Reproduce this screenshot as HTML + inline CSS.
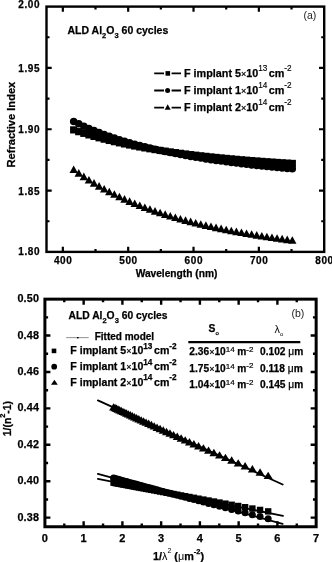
<!DOCTYPE html>
<html><head><meta charset="utf-8"><title>Figure</title>
<style>html,body{margin:0;padding:0;background:#fff;width:332px;height:562px;overflow:hidden}svg{display:block}</style>
</head><body>
<svg width="332" height="562" viewBox="0 0 332 562">
<rect width="332" height="562" fill="#fff"/>
<g fill="#000">
<rect x="70.08" y="126.29" width="7.2" height="7.2"/>
<rect x="75.17" y="128.05" width="7.2" height="7.2"/>
<rect x="80.25" y="129.72" width="7.2" height="7.2"/>
<rect x="85.34" y="131.3" width="7.2" height="7.2"/>
<rect x="90.42" y="132.79" width="7.2" height="7.2"/>
<rect x="95.5" y="134.21" width="7.2" height="7.2"/>
<rect x="100.59" y="135.56" width="7.2" height="7.2"/>
<rect x="105.67" y="136.84" width="7.2" height="7.2"/>
<rect x="110.76" y="138.06" width="7.2" height="7.2"/>
<rect x="115.84" y="139.23" width="7.2" height="7.2"/>
<rect x="120.93" y="140.34" width="7.2" height="7.2"/>
<rect x="126.01" y="141.39" width="7.2" height="7.2"/>
<rect x="131.1" y="142.4" width="7.2" height="7.2"/>
<rect x="136.18" y="143.37" width="7.2" height="7.2"/>
<rect x="141.26" y="144.29" width="7.2" height="7.2"/>
<rect x="146.35" y="145.17" width="7.2" height="7.2"/>
<rect x="151.43" y="146.01" width="7.2" height="7.2"/>
<rect x="156.52" y="146.82" width="7.2" height="7.2"/>
<rect x="161.6" y="147.59" width="7.2" height="7.2"/>
<rect x="166.69" y="148.34" width="7.2" height="7.2"/>
<rect x="171.77" y="149.05" width="7.2" height="7.2"/>
<rect x="176.86" y="149.73" width="7.2" height="7.2"/>
<rect x="181.94" y="150.39" width="7.2" height="7.2"/>
<rect x="187.02" y="151.02" width="7.2" height="7.2"/>
<rect x="192.11" y="151.63" width="7.2" height="7.2"/>
<rect x="197.19" y="152.21" width="7.2" height="7.2"/>
<rect x="202.28" y="152.77" width="7.2" height="7.2"/>
<rect x="207.36" y="153.32" width="7.2" height="7.2"/>
<rect x="212.45" y="153.84" width="7.2" height="7.2"/>
<rect x="217.53" y="154.34" width="7.2" height="7.2"/>
<rect x="222.62" y="154.82" width="7.2" height="7.2"/>
<rect x="227.7" y="155.29" width="7.2" height="7.2"/>
<rect x="232.78" y="155.74" width="7.2" height="7.2"/>
<rect x="237.87" y="156.18" width="7.2" height="7.2"/>
<rect x="242.95" y="156.6" width="7.2" height="7.2"/>
<rect x="248.04" y="157.01" width="7.2" height="7.2"/>
<rect x="253.12" y="157.4" width="7.2" height="7.2"/>
<rect x="258.21" y="157.78" width="7.2" height="7.2"/>
<rect x="263.29" y="158.15" width="7.2" height="7.2"/>
<rect x="268.38" y="158.5" width="7.2" height="7.2"/>
<rect x="273.46" y="158.85" width="7.2" height="7.2"/>
<rect x="278.54" y="159.18" width="7.2" height="7.2"/>
<rect x="283.63" y="159.51" width="7.2" height="7.2"/>
<rect x="288.71" y="159.82" width="7.2" height="7.2"/>
<circle cx="73.68" cy="121.38" r="3.75"/>
<circle cx="78.77" cy="123.87" r="3.75"/>
<circle cx="83.85" cy="126.23" r="3.75"/>
<circle cx="88.94" cy="128.46" r="3.75"/>
<circle cx="94.02" cy="130.58" r="3.75"/>
<circle cx="99.1" cy="132.59" r="3.75"/>
<circle cx="104.19" cy="134.5" r="3.75"/>
<circle cx="109.27" cy="136.32" r="3.75"/>
<circle cx="114.36" cy="138.05" r="3.75"/>
<circle cx="119.44" cy="139.7" r="3.75"/>
<circle cx="124.53" cy="141.27" r="3.75"/>
<circle cx="129.61" cy="142.77" r="3.75"/>
<circle cx="134.7" cy="144.19" r="3.75"/>
<circle cx="139.78" cy="145.56" r="3.75"/>
<circle cx="144.86" cy="146.87" r="3.75"/>
<circle cx="149.95" cy="148.11" r="3.75"/>
<circle cx="155.03" cy="149.31" r="3.75"/>
<circle cx="160.12" cy="150.45" r="3.75"/>
<circle cx="165.2" cy="151.55" r="3.75"/>
<circle cx="170.29" cy="152.6" r="3.75"/>
<circle cx="175.37" cy="153.61" r="3.75"/>
<circle cx="180.46" cy="154.58" r="3.75"/>
<circle cx="185.54" cy="155.51" r="3.75"/>
<circle cx="190.62" cy="156.41" r="3.75"/>
<circle cx="195.71" cy="157.27" r="3.75"/>
<circle cx="200.79" cy="158.09" r="3.75"/>
<circle cx="205.88" cy="158.89" r="3.75"/>
<circle cx="210.96" cy="159.66" r="3.75"/>
<circle cx="216.05" cy="160.4" r="3.75"/>
<circle cx="221.13" cy="161.11" r="3.75"/>
<circle cx="226.22" cy="161.79" r="3.75"/>
<circle cx="231.3" cy="162.46" r="3.75"/>
<circle cx="236.38" cy="163.1" r="3.75"/>
<circle cx="241.47" cy="163.71" r="3.75"/>
<circle cx="246.55" cy="164.31" r="3.75"/>
<circle cx="251.64" cy="164.89" r="3.75"/>
<circle cx="256.72" cy="165.44" r="3.75"/>
<circle cx="261.81" cy="165.98" r="3.75"/>
<circle cx="266.89" cy="166.5" r="3.75"/>
<circle cx="271.98" cy="167.01" r="3.75"/>
<circle cx="277.06" cy="167.5" r="3.75"/>
<circle cx="282.14" cy="167.97" r="3.75"/>
<circle cx="287.23" cy="168.43" r="3.75"/>
<circle cx="292.31" cy="168.87" r="3.75"/>
<path d="M73.68 165.39L77.88 172.99L69.48 172.99Z"/>
<path d="M78.77 169.11L82.97 176.71L74.57 176.71Z"/>
<path d="M83.85 172.62L88.05 180.22L79.65 180.22Z"/>
<path d="M88.94 175.95L93.14 183.55L84.74 183.55Z"/>
<path d="M94.02 179.11L98.22 186.71L89.82 186.71Z"/>
<path d="M99.1 182.11L103.3 189.71L94.9 189.71Z"/>
<path d="M104.19 184.96L108.39 192.56L99.99 192.56Z"/>
<path d="M109.27 187.67L113.47 195.27L105.07 195.27Z"/>
<path d="M114.36 190.25L118.56 197.85L110.16 197.85Z"/>
<path d="M119.44 192.7L123.64 200.3L115.24 200.3Z"/>
<path d="M124.53 195.04L128.73 202.64L120.33 202.64Z"/>
<path d="M129.61 197.28L133.81 204.88L125.41 204.88Z"/>
<path d="M134.7 199.41L138.9 207.01L130.5 207.01Z"/>
<path d="M139.78 201.44L143.98 209.04L135.58 209.04Z"/>
<path d="M144.86 203.39L149.06 210.99L140.66 210.99Z"/>
<path d="M149.95 205.25L154.15 212.85L145.75 212.85Z"/>
<path d="M155.03 207.03L159.23 214.63L150.83 214.63Z"/>
<path d="M160.12 208.74L164.32 216.34L155.92 216.34Z"/>
<path d="M165.2 210.37L169.4 217.97L161 217.97Z"/>
<path d="M170.29 211.94L174.49 219.54L166.09 219.54Z"/>
<path d="M175.37 213.45L179.57 221.05L171.17 221.05Z"/>
<path d="M180.46 214.89L184.66 222.49L176.26 222.49Z"/>
<path d="M185.54 216.28L189.74 223.88L181.34 223.88Z"/>
<path d="M190.62 217.61L194.82 225.21L186.42 225.21Z"/>
<path d="M195.71 218.89L199.91 226.49L191.51 226.49Z"/>
<path d="M200.79 220.13L204.99 227.73L196.59 227.73Z"/>
<path d="M205.88 221.31L210.08 228.91L201.68 228.91Z"/>
<path d="M210.96 222.46L215.16 230.06L206.76 230.06Z"/>
<path d="M216.05 223.56L220.25 231.16L211.85 231.16Z"/>
<path d="M221.13 224.62L225.33 232.22L216.93 232.22Z"/>
<path d="M226.22 225.64L230.42 233.24L222.02 233.24Z"/>
<path d="M231.3 226.63L235.5 234.23L227.1 234.23Z"/>
<path d="M236.38 227.59L240.58 235.19L232.18 235.19Z"/>
<path d="M241.47 228.51L245.67 236.11L237.27 236.11Z"/>
<path d="M246.55 229.39L250.75 236.99L242.35 236.99Z"/>
<path d="M251.64 230.25L255.84 237.85L247.44 237.85Z"/>
<path d="M256.72 231.08L260.92 238.68L252.52 238.68Z"/>
<path d="M261.81 231.89L266.01 239.49L257.61 239.49Z"/>
<path d="M266.89 232.66L271.09 240.26L262.69 240.26Z"/>
<path d="M271.98 233.42L276.18 241.02L267.78 241.02Z"/>
<path d="M277.06 234.14L281.26 241.74L272.86 241.74Z"/>
<path d="M282.14 234.85L286.34 242.45L277.94 242.45Z"/>
<path d="M287.23 235.53L291.43 243.13L283.03 243.13Z"/>
<path d="M292.31 236.19L296.51 243.79L288.11 243.79Z"/>
</g>
<rect x="46.5" y="6.6" width="277.7" height="245.3" fill="none" stroke="#000" stroke-width="2.4"/>
<path d="M62.84 251.9v-5.2M62.84 6.6v5.2M95.51 251.9v-3.0M95.51 6.6v3.0M128.18 251.9v-5.2M128.18 6.6v5.2M160.85 251.9v-3.0M160.85 6.6v3.0M193.52 251.9v-5.2M193.52 6.6v5.2M226.19 251.9v-3.0M226.19 6.6v3.0M258.86 251.9v-5.2M258.86 6.6v5.2M291.53 251.9v-3.0M291.53 6.6v3.0M46.5 37.26h3.0M324.2 37.26h-3.0M46.5 67.93h5.2M324.2 67.93h-5.2M46.5 98.59h3.0M324.2 98.59h-3.0M46.5 129.25h5.2M324.2 129.25h-5.2M46.5 159.91h3.0M324.2 159.91h-3.0M46.5 190.57h5.2M324.2 190.57h-5.2M46.5 221.24h3.0M324.2 221.24h-3.0" stroke="#000" stroke-width="2.2" fill="none"/>
<text x="40.2" y="7.5" text-anchor="end" font-size="10" letter-spacing="0.6" font-family="Liberation Sans, Arial, sans-serif" font-weight="bold" stroke="#000" stroke-width="0.25">2.00</text>
<text x="40.2" y="71.7" text-anchor="end" font-size="10" letter-spacing="0.6" font-family="Liberation Sans, Arial, sans-serif" font-weight="bold" stroke="#000" stroke-width="0.25">1.95</text>
<text x="40.2" y="132.95" text-anchor="end" font-size="10" letter-spacing="0.6" font-family="Liberation Sans, Arial, sans-serif" font-weight="bold" stroke="#000" stroke-width="0.25">1.90</text>
<text x="40.2" y="194.6" text-anchor="end" font-size="10" letter-spacing="0.6" font-family="Liberation Sans, Arial, sans-serif" font-weight="bold" stroke="#000" stroke-width="0.25">1.85</text>
<text x="40.2" y="255.2" text-anchor="end" font-size="10" letter-spacing="0.6" font-family="Liberation Sans, Arial, sans-serif" font-weight="bold" stroke="#000" stroke-width="0.25">1.80</text>
<text x="63.14" y="264.4" text-anchor="middle" font-size="10" letter-spacing="0.6" font-family="Liberation Sans, Arial, sans-serif" font-weight="bold" stroke="#000" stroke-width="0.25">400</text>
<text x="128.48" y="264.4" text-anchor="middle" font-size="10" letter-spacing="0.6" font-family="Liberation Sans, Arial, sans-serif" font-weight="bold" stroke="#000" stroke-width="0.25">500</text>
<text x="193.82" y="264.4" text-anchor="middle" font-size="10" letter-spacing="0.6" font-family="Liberation Sans, Arial, sans-serif" font-weight="bold" stroke="#000" stroke-width="0.25">600</text>
<text x="259.16" y="264.4" text-anchor="middle" font-size="10" letter-spacing="0.6" font-family="Liberation Sans, Arial, sans-serif" font-weight="bold" stroke="#000" stroke-width="0.25">700</text>
<text x="324.5" y="264.4" text-anchor="middle" font-size="10" letter-spacing="0.6" font-family="Liberation Sans, Arial, sans-serif" font-weight="bold" stroke="#000" stroke-width="0.25">800</text>
<text x="176.5" y="276.5" text-anchor="middle" font-size="10.2" font-family="Liberation Sans, Arial, sans-serif" font-weight="bold" stroke="#000" stroke-width="0.25">Wavelength (nm)</text>
<text transform="translate(15.2 124.6) rotate(-90)" text-anchor="middle" font-size="11.1" font-family="Liberation Sans, Arial, sans-serif" font-weight="bold" stroke="#000" stroke-width="0.25">Refractive Index</text>
<text x="67.5" y="33.8" font-size="10.5" font-family="Liberation Sans, Arial, sans-serif" font-weight="bold" stroke="#000" stroke-width="0.25">ALD Al<tspan font-size="7.5" dy="4.5">2</tspan><tspan dy="-4.5">O</tspan><tspan font-size="7.5" dy="4.5">3</tspan><tspan dy="-4.5"> 60 cycles</tspan></text>
<text x="303.5" y="18.6" font-size="10.5" font-family="Liberation Sans, Arial, sans-serif" fill="#222">(a)</text>
<path d="M154.2 73.4H164M171.6 73.4H181" stroke="#000" stroke-width="1.9"/>
<rect x="165.5" y="71.1" width="4.6" height="4.6"/>
<text x="184" y="77" font-size="10.8" font-family="Liberation Sans, Arial, sans-serif" font-weight="bold" stroke="#000" stroke-width="0.25">F implant 5<tspan font-weight="normal" font-size="9">×</tspan>10<tspan font-size="8.2" dy="-6" font-weight="normal" stroke="#000" stroke-width="0.15">13</tspan><tspan dy="6" dx="1.3">cm</tspan><tspan font-size="8.2" dy="-6" font-weight="normal" stroke="#000" stroke-width="0.15">-2</tspan></text>
<path d="M154.2 90.5H164M171.6 90.5H181" stroke="#000" stroke-width="1.9"/>
<circle cx="167.6" cy="90.5" r="2.5"/>
<text x="184" y="94.1" font-size="10.8" font-family="Liberation Sans, Arial, sans-serif" font-weight="bold" stroke="#000" stroke-width="0.25">F implant 1<tspan font-weight="normal" font-size="9">×</tspan>10<tspan font-size="8.2" dy="-6" font-weight="normal" stroke="#000" stroke-width="0.15">14</tspan><tspan dy="6" dx="1.3">cm</tspan><tspan font-size="8.2" dy="-6" font-weight="normal" stroke="#000" stroke-width="0.15">-2</tspan></text>
<path d="M154.2 107.6H164M171.6 107.6H181" stroke="#000" stroke-width="1.9"/>
<path d="M167.7 104.13L170.7 109.73L164.7 109.73Z"/>
<text x="184" y="111.2" font-size="10.8" font-family="Liberation Sans, Arial, sans-serif" font-weight="bold" stroke="#000" stroke-width="0.25">F implant 2<tspan font-weight="normal" font-size="9">×</tspan>10<tspan font-size="8.2" dy="-6" font-weight="normal" stroke="#000" stroke-width="0.15">14</tspan><tspan dy="6" dx="1.3">cm</tspan><tspan font-size="8.2" dy="-6" font-weight="normal" stroke="#000" stroke-width="0.15">-2</tspan></text>
<g fill="#000">
<rect x="264.97" y="508.19" width="6.4" height="6.4"/>
<rect x="256.86" y="506.73" width="6.4" height="6.4"/>
<rect x="249.18" y="505.34" width="6.4" height="6.4"/>
<rect x="241.91" y="504.02" width="6.4" height="6.4"/>
<rect x="235.01" y="502.77" width="6.4" height="6.4"/>
<rect x="228.46" y="501.58" width="6.4" height="6.4"/>
<rect x="222.24" y="500.44" width="6.4" height="6.4"/>
<rect x="216.32" y="499.35" width="6.4" height="6.4"/>
<rect x="210.69" y="498.32" width="6.4" height="6.4"/>
<rect x="205.33" y="497.33" width="6.4" height="6.4"/>
<rect x="200.22" y="496.39" width="6.4" height="6.4"/>
<rect x="195.35" y="495.49" width="6.4" height="6.4"/>
<rect x="190.69" y="494.62" width="6.4" height="6.4"/>
<rect x="186.25" y="493.8" width="6.4" height="6.4"/>
<rect x="182" y="493.01" width="6.4" height="6.4"/>
<rect x="177.94" y="492.25" width="6.4" height="6.4"/>
<rect x="174.05" y="491.52" width="6.4" height="6.4"/>
<rect x="170.32" y="490.83" width="6.4" height="6.4"/>
<rect x="166.75" y="490.16" width="6.4" height="6.4"/>
<rect x="163.33" y="489.52" width="6.4" height="6.4"/>
<rect x="160.04" y="488.9" width="6.4" height="6.4"/>
<rect x="156.89" y="488.3" width="6.4" height="6.4"/>
<rect x="153.86" y="487.73" width="6.4" height="6.4"/>
<rect x="150.95" y="487.18" width="6.4" height="6.4"/>
<rect x="148.15" y="486.66" width="6.4" height="6.4"/>
<rect x="145.45" y="486.15" width="6.4" height="6.4"/>
<rect x="142.86" y="485.66" width="6.4" height="6.4"/>
<rect x="140.36" y="485.18" width="6.4" height="6.4"/>
<rect x="137.96" y="484.73" width="6.4" height="6.4"/>
<rect x="135.64" y="484.29" width="6.4" height="6.4"/>
<rect x="133.4" y="483.86" width="6.4" height="6.4"/>
<rect x="131.25" y="483.45" width="6.4" height="6.4"/>
<rect x="129.17" y="483.05" width="6.4" height="6.4"/>
<rect x="127.16" y="482.67" width="6.4" height="6.4"/>
<rect x="125.21" y="482.3" width="6.4" height="6.4"/>
<rect x="123.34" y="481.94" width="6.4" height="6.4"/>
<rect x="121.53" y="481.6" width="6.4" height="6.4"/>
<rect x="119.77" y="481.26" width="6.4" height="6.4"/>
<rect x="118.08" y="480.94" width="6.4" height="6.4"/>
<rect x="116.43" y="480.62" width="6.4" height="6.4"/>
<rect x="114.84" y="480.32" width="6.4" height="6.4"/>
<rect x="113.31" y="480.02" width="6.4" height="6.4"/>
<rect x="111.81" y="479.74" width="6.4" height="6.4"/>
<rect x="110.37" y="479.46" width="6.4" height="6.4"/>
<circle cx="268.17" cy="518.64" r="3.5"/>
<circle cx="260.06" cy="516.6" r="3.5"/>
<circle cx="252.38" cy="514.67" r="3.5"/>
<circle cx="245.11" cy="512.83" r="3.5"/>
<circle cx="238.21" cy="511.07" r="3.5"/>
<circle cx="231.66" cy="509.4" r="3.5"/>
<circle cx="225.44" cy="507.8" r="3.5"/>
<circle cx="219.52" cy="506.28" r="3.5"/>
<circle cx="213.89" cy="504.83" r="3.5"/>
<circle cx="208.53" cy="503.44" r="3.5"/>
<circle cx="203.42" cy="502.11" r="3.5"/>
<circle cx="198.55" cy="500.84" r="3.5"/>
<circle cx="193.89" cy="499.62" r="3.5"/>
<circle cx="189.45" cy="498.46" r="3.5"/>
<circle cx="185.2" cy="497.34" r="3.5"/>
<circle cx="181.14" cy="496.27" r="3.5"/>
<circle cx="177.25" cy="495.24" r="3.5"/>
<circle cx="173.52" cy="494.26" r="3.5"/>
<circle cx="169.95" cy="493.31" r="3.5"/>
<circle cx="166.53" cy="492.4" r="3.5"/>
<circle cx="163.24" cy="491.52" r="3.5"/>
<circle cx="160.09" cy="490.68" r="3.5"/>
<circle cx="157.06" cy="489.87" r="3.5"/>
<circle cx="154.15" cy="489.09" r="3.5"/>
<circle cx="151.35" cy="488.34" r="3.5"/>
<circle cx="148.65" cy="487.61" r="3.5"/>
<circle cx="146.06" cy="486.92" r="3.5"/>
<circle cx="143.56" cy="486.24" r="3.5"/>
<circle cx="141.16" cy="485.59" r="3.5"/>
<circle cx="138.84" cy="484.97" r="3.5"/>
<circle cx="136.6" cy="484.36" r="3.5"/>
<circle cx="134.45" cy="483.77" r="3.5"/>
<circle cx="132.37" cy="483.21" r="3.5"/>
<circle cx="130.36" cy="482.66" r="3.5"/>
<circle cx="128.41" cy="482.13" r="3.5"/>
<circle cx="126.54" cy="481.62" r="3.5"/>
<circle cx="124.73" cy="481.13" r="3.5"/>
<circle cx="122.97" cy="480.65" r="3.5"/>
<circle cx="121.28" cy="480.18" r="3.5"/>
<circle cx="119.63" cy="479.73" r="3.5"/>
<circle cx="118.04" cy="479.3" r="3.5"/>
<circle cx="116.51" cy="478.88" r="3.5"/>
<circle cx="115.01" cy="478.47" r="3.5"/>
<circle cx="113.57" cy="478.07" r="3.5"/>
<path d="M268.17 471.64L272.67 479.04L263.67 479.04Z"/>
<path d="M260.06 468.29L264.56 475.69L255.56 475.69Z"/>
<path d="M252.38 465.1L256.88 472.5L247.88 472.5Z"/>
<path d="M245.11 462.05L249.61 469.45L240.61 469.45Z"/>
<path d="M238.21 459.15L242.71 466.55L233.71 466.55Z"/>
<path d="M231.66 456.37L236.16 463.77L227.16 463.77Z"/>
<path d="M225.44 453.71L229.94 461.11L220.94 461.11Z"/>
<path d="M219.52 451.17L224.02 458.57L215.02 458.57Z"/>
<path d="M213.89 448.74L218.39 456.14L209.39 456.14Z"/>
<path d="M208.53 446.42L213.03 453.82L204.03 453.82Z"/>
<path d="M203.42 444.19L207.92 451.59L198.92 451.59Z"/>
<path d="M198.55 442.06L203.05 449.46L194.05 449.46Z"/>
<path d="M193.89 440.01L198.39 447.41L189.39 447.41Z"/>
<path d="M189.45 438.05L193.95 445.45L184.95 445.45Z"/>
<path d="M185.2 436.16L189.7 443.56L180.7 443.56Z"/>
<path d="M181.14 434.35L185.64 441.75L176.64 441.75Z"/>
<path d="M177.25 432.61L181.75 440.01L172.75 440.01Z"/>
<path d="M173.52 430.94L178.02 438.34L169.02 438.34Z"/>
<path d="M169.95 429.33L174.45 436.73L165.45 436.73Z"/>
<path d="M166.53 427.78L171.03 435.18L162.03 435.18Z"/>
<path d="M163.24 426.29L167.74 433.69L158.74 433.69Z"/>
<path d="M160.09 424.86L164.59 432.26L155.59 432.26Z"/>
<path d="M157.06 423.48L161.56 430.88L152.56 430.88Z"/>
<path d="M154.15 422.14L158.65 429.54L149.65 429.54Z"/>
<path d="M151.35 420.86L155.85 428.26L146.85 428.26Z"/>
<path d="M148.65 419.62L153.15 427.02L144.15 427.02Z"/>
<path d="M146.06 418.43L150.56 425.83L141.56 425.83Z"/>
<path d="M143.56 417.27L148.06 424.67L139.06 424.67Z"/>
<path d="M141.16 416.16L145.66 423.56L136.66 423.56Z"/>
<path d="M138.84 415.08L143.34 422.48L134.34 422.48Z"/>
<path d="M136.6 414.04L141.1 421.44L132.1 421.44Z"/>
<path d="M134.45 413.03L138.95 420.43L129.95 420.43Z"/>
<path d="M132.37 412.06L136.87 419.46L127.87 419.46Z"/>
<path d="M130.36 411.12L134.86 418.52L125.86 418.52Z"/>
<path d="M128.41 410.21L132.91 417.61L123.91 417.61Z"/>
<path d="M126.54 409.33L131.04 416.73L122.04 416.73Z"/>
<path d="M124.73 408.47L129.23 415.87L120.23 415.87Z"/>
<path d="M122.97 407.65L127.47 415.05L118.47 415.05Z"/>
<path d="M121.28 406.84L125.78 414.24L116.78 414.24Z"/>
<path d="M119.63 406.07L124.13 413.47L115.13 413.47Z"/>
<path d="M118.04 405.31L122.54 412.71L113.54 412.71Z"/>
<path d="M116.51 404.58L121.01 411.98L112.01 411.98Z"/>
<path d="M115.01 403.87L119.51 411.27L110.51 411.27Z"/>
<path d="M113.57 403.19L118.07 410.59L109.07 410.59Z"/>
</g>
<path d="M97.9 400.4L282.7 484.5M97.9 473.8L282.6 523.9M97.9 478.8L283 515.8" stroke="#000" stroke-width="1.8" stroke-linecap="round" fill="none"/>
<rect x="44.9" y="299.15" width="271.25" height="227.6" fill="none" stroke="#000" stroke-width="3.0"/>
<path d="M64.28 526.75v-3.2M64.28 299.15v3.2M83.65 526.75v-5.5M83.65 299.15v5.5M103.03 526.75v-3.2M103.03 299.15v3.2M122.4 526.75v-5.5M122.4 299.15v5.5M141.78 526.75v-3.2M141.78 299.15v3.2M161.15 526.75v-5.5M161.15 299.15v5.5M180.53 526.75v-3.2M180.53 299.15v3.2M199.9 526.75v-5.5M199.9 299.15v5.5M219.28 526.75v-3.2M219.28 299.15v3.2M238.65 526.75v-5.5M238.65 299.15v5.5M258.02 526.75v-3.2M258.02 299.15v3.2M277.4 526.75v-5.5M277.4 299.15v5.5M296.77 526.75v-3.2M296.77 299.15v3.2M44.9 317.36h3.2M316.15 317.36h-3.2M44.9 335.57h5.5M316.15 335.57h-5.5M44.9 353.77h3.2M316.15 353.77h-3.2M44.9 371.98h5.5M316.15 371.98h-5.5M44.9 390.19h3.2M316.15 390.19h-3.2M44.9 408.4h5.5M316.15 408.4h-5.5M44.9 426.61h3.2M316.15 426.61h-3.2M44.9 444.81h5.5M316.15 444.81h-5.5M44.9 463.02h3.2M316.15 463.02h-3.2M44.9 481.23h5.5M316.15 481.23h-5.5M44.9 499.44h3.2M316.15 499.44h-3.2M44.9 517.65h5.5M316.15 517.65h-5.5" stroke="#000" stroke-width="2.4" fill="none"/>
<text x="39.1" y="302.15" text-anchor="end" font-size="10.8" letter-spacing="0.15" font-family="Liberation Sans, Arial, sans-serif" font-weight="bold" stroke="#000" stroke-width="0.25">0.50</text>
<text x="39.1" y="338.57" text-anchor="end" font-size="10.8" letter-spacing="0.15" font-family="Liberation Sans, Arial, sans-serif" font-weight="bold" stroke="#000" stroke-width="0.25">0.48</text>
<text x="39.1" y="374.98" text-anchor="end" font-size="10.8" letter-spacing="0.15" font-family="Liberation Sans, Arial, sans-serif" font-weight="bold" stroke="#000" stroke-width="0.25">0.46</text>
<text x="39.1" y="411.4" text-anchor="end" font-size="10.8" letter-spacing="0.15" font-family="Liberation Sans, Arial, sans-serif" font-weight="bold" stroke="#000" stroke-width="0.25">0.44</text>
<text x="39.1" y="447.81" text-anchor="end" font-size="10.8" letter-spacing="0.15" font-family="Liberation Sans, Arial, sans-serif" font-weight="bold" stroke="#000" stroke-width="0.25">0.42</text>
<text x="39.1" y="484.23" text-anchor="end" font-size="10.8" letter-spacing="0.15" font-family="Liberation Sans, Arial, sans-serif" font-weight="bold" stroke="#000" stroke-width="0.25">0.40</text>
<text x="39.1" y="520.65" text-anchor="end" font-size="10.8" letter-spacing="0.15" font-family="Liberation Sans, Arial, sans-serif" font-weight="bold" stroke="#000" stroke-width="0.25">0.38</text>
<text x="44.9" y="542" text-anchor="middle" font-size="11" font-family="Liberation Sans, Arial, sans-serif" font-weight="bold" stroke="#000" stroke-width="0.25">0</text>
<text x="83.65" y="542" text-anchor="middle" font-size="11" font-family="Liberation Sans, Arial, sans-serif" font-weight="bold" stroke="#000" stroke-width="0.25">1</text>
<text x="122.4" y="542" text-anchor="middle" font-size="11" font-family="Liberation Sans, Arial, sans-serif" font-weight="bold" stroke="#000" stroke-width="0.25">2</text>
<text x="161.15" y="542" text-anchor="middle" font-size="11" font-family="Liberation Sans, Arial, sans-serif" font-weight="bold" stroke="#000" stroke-width="0.25">3</text>
<text x="199.9" y="542" text-anchor="middle" font-size="11" font-family="Liberation Sans, Arial, sans-serif" font-weight="bold" stroke="#000" stroke-width="0.25">4</text>
<text x="238.65" y="542" text-anchor="middle" font-size="11" font-family="Liberation Sans, Arial, sans-serif" font-weight="bold" stroke="#000" stroke-width="0.25">5</text>
<text x="277.4" y="542" text-anchor="middle" font-size="11" font-family="Liberation Sans, Arial, sans-serif" font-weight="bold" stroke="#000" stroke-width="0.25">6</text>
<text x="316.15" y="542" text-anchor="middle" font-size="11" font-family="Liberation Sans, Arial, sans-serif" font-weight="bold" stroke="#000" stroke-width="0.25">7</text>
<text x="153" y="559.5" font-size="10.8" font-family="Liberation Sans, Arial, sans-serif" font-weight="bold" stroke="#000" stroke-width="0.25">1/<tspan font-weight="normal" stroke="none">λ</tspan><tspan font-size="7" dy="-6.5" font-weight="normal" stroke="none">2</tspan><tspan dy="6.5"> (</tspan><tspan font-weight="normal" stroke="none">μ</tspan>m<tspan font-size="7.5" dy="-5.5">-2</tspan><tspan dy="5.5">)</tspan></text>
<text transform="translate(11 418.6) rotate(-90)" text-anchor="middle" font-size="10.3" font-family="Liberation Sans, Arial, sans-serif" font-weight="bold" stroke="#000" stroke-width="0.25">1/(n<tspan font-size="7.5" dy="-6.5">2</tspan><tspan dy="6.5">-1)</tspan></text>
<text x="68.5" y="318.7" font-size="10.3" font-family="Liberation Sans, Arial, sans-serif" font-weight="bold" stroke="#000" stroke-width="0.25">ALD Al<tspan font-size="7.5" dy="4.5">2</tspan><tspan dy="-4.5">O</tspan><tspan font-size="7.5" dy="4.5">3</tspan><tspan dy="-4.5"> 60 cycles</tspan></text>
<text x="291.5" y="317.2" font-size="10.5" font-family="Liberation Sans, Arial, sans-serif" fill="#222">(b)</text>
<path d="M66.2 337.6H88.7" stroke="#999" stroke-width="1.1"/>
<rect x="77" y="337" width="1.6" height="1.4" fill="#000"/>
<text x="94.7" y="340.2" font-size="10" font-family="Liberation Sans, Arial, sans-serif" font-weight="bold" stroke="#000" stroke-width="0.25">Fitted model</text>
<rect x="51.7" y="348.6" width="4.6" height="4.6"/>
<text x="70.3" y="354.2" font-size="10.6" font-family="Liberation Sans, Arial, sans-serif" font-weight="bold" stroke="#000" stroke-width="0.25">F implant 5<tspan font-weight="normal" font-size="9">×</tspan>10<tspan font-size="8.2" dy="-5.5">13</tspan><tspan dy="5.5" dx="1.6">cm</tspan><tspan font-size="8.2" dy="-5.5">-2</tspan></text>
<circle cx="54.2" cy="366.7" r="2.85"/>
<text x="70.3" y="370" font-size="10.6" font-family="Liberation Sans, Arial, sans-serif" font-weight="bold" stroke="#000" stroke-width="0.25">F implant 1<tspan font-weight="normal" font-size="9">×</tspan>10<tspan font-size="8.2" dy="-5.5">14</tspan><tspan dy="5.5" dx="1.6">cm</tspan><tspan font-size="8.2" dy="-5.5">-2</tspan></text>
<path d="M54.4 379.75L57.8 384.75L51 384.75Z"/>
<text x="70.3" y="385.8" font-size="10.6" font-family="Liberation Sans, Arial, sans-serif" font-weight="bold" stroke="#000" stroke-width="0.25">F implant 2<tspan font-weight="normal" font-size="9">×</tspan>10<tspan font-size="8.2" dy="-5.5">14</tspan><tspan dy="5.5" dx="1.6">cm</tspan><tspan font-size="8.2" dy="-5.5">-2</tspan></text>
<text x="208.5" y="331.6" font-size="10.3" font-family="Liberation Sans, Arial, sans-serif" font-weight="bold" stroke="#000" stroke-width="0.25">S<tspan font-size="6" dy="3" font-weight="normal">o</tspan></text>
<text x="274.6" y="333" font-size="10.8" font-family="Liberation Sans, Arial, sans-serif">λ<tspan font-size="6" dy="3">o</tspan></text>
<path d="M188.3 342.1H300.3" stroke="#000" stroke-width="2.2"/>
<text x="189.3" y="355" font-size="10.2" font-family="Liberation Sans, Arial, sans-serif" font-weight="bold" stroke="#000" stroke-width="0.25">2.36<tspan font-weight="normal" font-size="9">×</tspan>10<tspan font-size="8" dy="-3" font-weight="normal" stroke-width="0.2">14</tspan><tspan dy="3" dx="2.6">m</tspan><tspan font-size="8" dy="-3.3" font-weight="normal" stroke-width="0.2">-2</tspan></text>
<text x="260" y="355" font-size="10.2" font-family="Liberation Sans, Arial, sans-serif" font-weight="bold" stroke="#000" stroke-width="0.25">0.102 <tspan font-weight="normal">μ</tspan>m</text>
<text x="189.3" y="371.5" font-size="10.2" font-family="Liberation Sans, Arial, sans-serif" font-weight="bold" stroke="#000" stroke-width="0.25">1.75<tspan font-weight="normal" font-size="9">×</tspan>10<tspan font-size="8" dy="-3" font-weight="normal" stroke-width="0.2">14</tspan><tspan dy="3" dx="2.6">m</tspan><tspan font-size="8" dy="-3.3" font-weight="normal" stroke-width="0.2">-2</tspan></text>
<text x="260" y="371.5" font-size="10.2" font-family="Liberation Sans, Arial, sans-serif" font-weight="bold" stroke="#000" stroke-width="0.25">0.118 <tspan font-weight="normal">μ</tspan>m</text>
<text x="189.3" y="388" font-size="10.2" font-family="Liberation Sans, Arial, sans-serif" font-weight="bold" stroke="#000" stroke-width="0.25">1.04<tspan font-weight="normal" font-size="9">×</tspan>10<tspan font-size="8" dy="-3" font-weight="normal" stroke-width="0.2">14</tspan><tspan dy="3" dx="2.6">m</tspan><tspan font-size="8" dy="-3.3" font-weight="normal" stroke-width="0.2">-2</tspan></text>
<text x="260" y="388" font-size="10.2" font-family="Liberation Sans, Arial, sans-serif" font-weight="bold" stroke="#000" stroke-width="0.25">0.145 <tspan font-weight="normal">μ</tspan>m</text>
</svg>
</body></html>
